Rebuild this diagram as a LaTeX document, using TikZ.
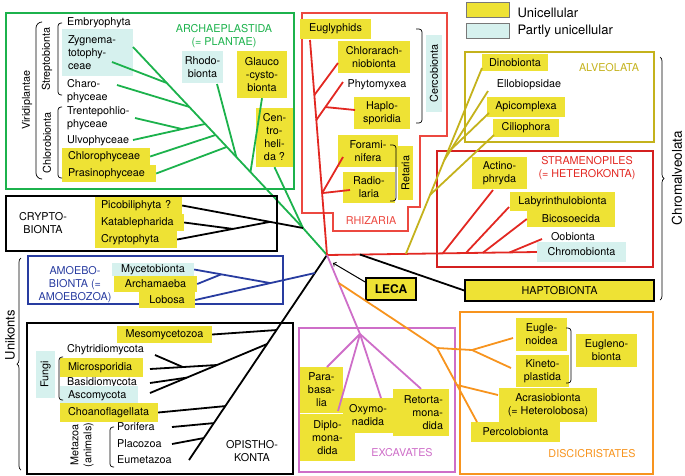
\documentclass[tikz,border=0pt]{standalone}
\usepackage{fontspec}
\setmainfont{TeX Gyre Heros}
\usepackage{tikz}
\usetikzlibrary{arrows,positioning,decorations.pathreplacing}
\definecolor{uniyellow}{RGB}{238,226,52}
\definecolor{partcyan}{RGB}{214,241,238}
\definecolor{plantgreen}{RGB}{28,178,76}
\definecolor{rhizred}{RGB}{226,40,34}
\definecolor{rhizbox}{RGB}{236,72,64}
\definecolor{stramred}{RGB}{212,32,32}
\definecolor{alvolive}{RGB}{196,178,28}
\definecolor{amoeblue}{RGB}{40,60,160}
\definecolor{excpink}{RGB}{206,110,200}
\definecolor{discorange}{RGB}{247,148,30}
\definecolor{leggray}{RGB}{120,120,120}
\newcommand\taxfont{\fontsize{10.8}{13}\selectfont}

\begin{document}
\begin{tikzpicture}[x=1pt,y=-1pt,>=to]
  \tikzstyle{every node}=[font=\taxfont,inner sep=0pt]
  \tikzstyle{uni}=[fill=uniyellow,align=center]
  \tikzstyle{part}=[fill=partcyan,align=center]
  \tikzstyle{lbox}=[inner xsep=6pt,align=left]
  \tikzstyle{taxon}=[anchor=west,align=left]
  \tikzstyle{branch}=[line width=1.8pt]
  \tikzstyle{cladebox}=[line width=1.4pt]
  \tikzstyle{sqbrack}=[line width=0.7pt,rounded corners=3pt]
  \tikzstyle{curly}=[line width=0.7pt,decorate,decoration={brace,amplitude=4pt}]
  \useasboundingbox (0,0) rectangle (685,475);
  \coordinate (root) at (327,255);

  \begin{scope}
    \draw[cladebox,plantgreen] (6,13) rectangle (294,189);
    \node[rotate=90] (viri) at (27,100) {Viridiplantae};
    \node[rotate=90] (strep) at (47,59) {Streptobionta};
    \node[rotate=90] (chlb) at (47,143) {Chlorobionta};
    \node[taxon] (embr) at (67,23) {Embryophyta};
    \node[part,lbox,text width=59pt,minimum height=47pt] (zygn) at (97.5,52.5) {Zygnema-\\totophy-\\ceae};
    \node[taxon] (charo) at (67,91) {Charo-\\phyceae};
    \node[taxon] (trent) at (67,118.5) {Trentepohlio-\\phyceae};
    \node[taxon] (ulvo) at (67,141) {Ulvophyceae};
    \node[uni,lbox,text width=76pt,minimum height=17pt] (chlor) at (106,156.5) {Chlorophyceae};
    \node[uni,lbox,text width=82pt,minimum height=17pt] (pras) at (109,173.5) {Prasinophyceae};
    \draw[sqbrack,rounded corners=6pt] (41,22) -- (36,22) -- (36,179) -- (41,179);
    \draw[sqbrack] (62,23) -- (58,23) -- (58,95) -- (62,95);
    \draw[sqbrack] (62,107) -- (58,107) -- (58,178) -- (62,178);
    \node[plantgreen,align=center] (archL) at (224,36) {ARCHAEPLASTIDA\\(= PLANTAE)};
    \node[part,minimum width=41pt,minimum height=32pt] (rhodo) at (202.5,67) {Rhodo-\\bionta};
    \node[uni,minimum width=50pt,minimum height=47pt] (glauco) at (262,74.5) {Glauco\\-cysto-\\bionta};
    \node[uni,minimum width=37pt,minimum height=59pt] (centro) at (274.5,137.5) {Cen-\\tro-\\heli-\\da ?};

    \coordinate (g0) at (133,47);
    \coordinate (gJ) at (303,228);
    \draw[branch,plantgreen] (g0) -- (gJ) coordinate[pos=.199] (gz) coordinate[pos=.331] (gch)
      coordinate[pos=.425] (gu) coordinate[pos=.486] (gcp) coordinate[pos=.552] (gpr)
      coordinate[pos=.608] (grh) coordinate[pos=.691] (ggl) -- (root);
    \coordinate (zygnE) at (112,62);
    \coordinate (charoE) at (117,85);
    \coordinate (trentE) at (135,118);
    \coordinate (ulvoE) at (133,140);
    \coordinate (rhodoE) at (217,84);
    \draw[branch,plantgreen] (zygnE) -- (gz);
    \draw[branch,plantgreen] (charoE) -- (gch);
    \draw[branch,plantgreen] (ulvoE) -- (gu) coordinate[pos=.68] (gtr);
    \draw[branch,plantgreen] (trentE) -- (gtr);
    \draw[branch,plantgreen] (chlor.east) -- (gcp);
    \draw[branch,plantgreen] (pras.east) -- (gpr);
    \draw[branch,plantgreen] (rhodoE) -- (grh);
    \draw[branch,plantgreen] (glauco.south) -- (ggl);
    \draw[branch,plantgreen] (centro.south) -- (gJ);
  \end{scope}

  \begin{scope}
    \draw[cladebox,line width=1.8pt] (6,196) rectangle (277,251);
    \node[align=center] (cryL) at (43,223) {CRYPTO-\\BIONTA};
    \node[uni,lbox,text width=75pt,minimum height=17pt] (pico) at (138.5,205.5) {Picobiliphyta ?};
    \node[uni,lbox,text width=77pt,minimum height=17pt] (kata) at (139.5,222.5) {Katablepharida};
    \node[uni,lbox,text width=70pt,minimum height=17pt] (crypt) at (136,239.5) {Cryptophyta};
    \draw[branch] (pico.east) -- (gJ) coordinate[pos=.727] (cp1);
    \draw[branch] (crypt.east) -- (cp1) coordinate[pos=.6] (cp2);
    \draw[branch] (kata.east) -- (cp2);
  \end{scope}

  \begin{scope}
    \draw[cladebox,amoeblue] (28,256) rectangle (283,304);
    \node[amoeblue,align=center] (amoL) at (75,285) {AMOEBO-\\BIONTA (=\\AMOEBOZOA)};
    \node[part,minimum width=82pt,minimum height=13pt] (myce) at (153,269.5) {Mycetobionta};
    \node[uni,minimum width=83pt,minimum height=16pt] (archa) at (155.5,284) {Archamaeba};
    \node[uni,minimum width=56pt,minimum height=16pt] (lobo) at (167,300) {Lobosa};
  \end{scope}

  \begin{scope}
    \draw[cladebox,line width=1.8pt] (27,323) rectangle (293,474);
    \node[align=center] (opiL) at (252,451) {OPISTHO-\\KONTA};
    \node[uni,minimum width=95pt,minimum height=17pt] (meso) at (164.5,334.5) {Mesomycetozoa};
    \node[part,rotate=90,minimum width=47pt,minimum height=19pt] (fungi) at (45.5,374.5) {Fungi};
    \node[taxon] (chytr) at (67,350) {Chytridiomycota};
    \node[uni,lbox,inner xsep=8pt,text width=67pt,minimum height=19pt] (micro) at (101.5,367.5) {Microsporidia};
    \node[taxon] (basid) at (67,383) {Basidiomycota};
    \node[part,lbox,inner xsep=8pt,text width=62pt,minimum height=19pt] (asco) at (99,395.5) {Ascomycota};
    \node[uni,lbox,inner xsep=8pt,text width=82pt,minimum height=19pt] (choa) at (109,412.5) {Choanoflagellata};
    \draw[sqbrack] (63,357) -- (59,357) -- (59,400) -- (63,400);
    \node[rotate=90,align=center] (metaL) at (82,445) {Metazoa\\(animals)};
    \draw[sqbrack] (114,427) -- (110,427) -- (110,467) -- (114,467);
    \node[taxon] (pori) at (117,427) {Porifera};
    \node[taxon] (placo) at (117,444) {Placozoa};
    \node[taxon] (eume) at (117,460) {Eumetazoa};
    \node[rotate=90,font=\fontsize{13}{15}\selectfont] (unik) at (10,335) {Unikonts};
    \draw[curly] (21,470) -- (21,258);

    \coordinate (uEnd) at (189,460);
    \draw[branch] (root) -- (uEnd) coordinate[pos=.088] (uam) coordinate[pos=.366] (ume)
      coordinate[pos=.434] (ufu) coordinate[pos=.737] (uch) coordinate[pos=.82] (upo)
      coordinate[pos=.893] (upl);
    \draw[branch,amoeblue] (lobo.east) -- (uam) coordinate[pos=.628] (am1);
    \draw[branch,amoeblue] (myce.east) -- (am1) coordinate[pos=.355] (am2);
    \draw[branch,amoeblue] (archa.east) -- (am2);
    \draw[branch] (meso.east) -- (ume);
    \coordinate (fu1) at (217,365);
    \coordinate (microE) at (150,369);
    \coordinate (chytrE) at (155,355);
    \coordinate (ascoE) at (150,393);
    \coordinate (basidE) at (150,383);
    \coordinate (poriE) at (172,427);
    \coordinate (placoE) at (172,444);
    \draw[branch] (fu1) -- (ufu);
    \draw[branch] (microE) -- (fu1) coordinate[pos=.49] (fu2);
    \draw[branch] (chytrE) -- (fu2);
    \draw[branch] (ascoE) -- (fu1) coordinate[pos=.55] (fu3);
    \draw[branch] (basidE) -- (fu3);
    \draw[branch] (choa.east) -- (uch);
    \draw[branch] (poriE) -- (upo);
    \draw[branch] (placoE) -- (upl);
  \end{scope}

  \begin{scope}
    \draw[line width=1.1pt,rhizbox] (302,13) -- (447,13) -- (447,136) -- (420,136) -- (420,207)
      -- (408,207) -- (408,231) -- (333,231) -- (333,213) -- (302,213) -- cycle;
    \node[rhizbox] (rhiL) at (371,221) {RHIZARIA};
    \node[uni,minimum width=71pt,minimum height=20pt] (eugly) at (335.5,29) {Euglyphids};
    \node[uni,minimum width=72pt,minimum height=32pt] (chlra) at (374,57) {Chlorarach-\\niobionta};
    \node (phyto) at (377,85) {Phytomyxea};
    \node[uni,minimum width=56pt,minimum height=32pt] (haplo) at (382,113) {Haplo-\\sporidia};
    \node[part,rotate=90,minimum width=77pt,minimum height=16pt] (cerco) at (434,73.5) {Cercobionta};
    \node[uni,minimum width=60pt,minimum height=32pt] (fora) at (368,151) {Forami-\\nifera};
    \node[uni,minimum width=52pt,minimum height=31pt] (radio) at (369,187.5) {Radio-\\laria};
    \node[uni,rotate=90,minimum width=54pt,minimum height=15pt] (reta) at (405.5,173) {Retaria};
    \draw[sqbrack] (416,29) -- (422,29) -- (422,123) -- (416,123);
    \draw[sqbrack] (390,145) -- (396,145) -- (396,201) -- (390,201);

    \coordinate (rTop) at (310,40);
    \coordinate (chlraE) at (338,63);
    \coordinate (phytoE) at (343,82);
    \coordinate (haploE) at (355,110);
    \coordinate (foraE) at (343,157);
    \coordinate (radioE) at (350,190);
    \draw[branch,rhizred] (rTop) -- (root) coordinate[pos=.256] (rca) coordinate[pos=.372] (rph)
      coordinate[pos=.712] (rfr);
    \draw[branch,rhizred] (chlraE) -- (rca);
    \draw[branch,rhizred] (phytoE) -- (rph) coordinate[pos=.66] (rha);
    \draw[branch,rhizred] (haploE) -- (rha);
    \draw[branch,rhizred] (foraE) -- (rfr);
    \draw[branch,rhizred] (radioE) -- (rfr);
  \end{scope}

  \begin{scope}
    \draw[cladebox,stramred] (437,151) rectangle (653,267);
    \node[rhizred,align=center] (strL) at (587,168) {STRAMENOPILES\\(= HETEROKONTA)};
    \node[uni,minimum width=55pt,minimum height=32pt] (acti) at (499.5,173) {Actino-\\phryda};
    \node[uni,minimum width=105pt,minimum height=19pt] (laby) at (562.5,201.5) {Labyrinthulobionta};
    \node[uni,minimum width=88pt,minimum height=16pt] (bico) at (571,219) {Bicosoecida};
    \node (oob) at (573,237) {Oobionta};
    \node[part,minimum width=89pt,minimum height=20pt] (chro) at (581.5,252) {Chromobionta};

    \draw[cladebox,alvolive] (465,52) rectangle (654,142);
    \node[alvolive] (alvL) at (609,68) {ALVEOLATA};
    \node[uni,minimum width=66pt,minimum height=17pt] (dino) at (515,62.5) {Dinobionta};
    \node (ello) at (529,85) {Ellobiopsidae};
    \node[uni,minimum width=78pt,minimum height=20pt] (apic) at (526,107) {Apicomplexa};
    \node[uni,minimum width=66pt,minimum height=18pt] (cili) at (526,128) {Ciliophora};

    \draw[curly] (660,57) -- (660,300);
    \node[rotate=90,font=\fontsize{13.5}{15}\selectfont] (chrL) at (677,178) {Chromalveolata};

    \draw[branch,rhizred] (root) -- (chro.west) coordinate[pos=.157] (sha) coordinate[pos=.376] (sal)
      coordinate[pos=.552] (sac) coordinate[pos=.662] (sla) coordinate[pos=.743] (sbi)
      coordinate[pos=.871] (soo);
    \coordinate (actiE) at (493,190);
    \coordinate (labyE) at (509,207);
    \coordinate (oobE) at (542,239);
    \draw[branch,rhizred] (actiE) -- (sac);
    \draw[branch,rhizred] (labyE) -- (sla);
    \draw[branch,rhizred] (bico.west) -- (sbi);
    \draw[branch,rhizred] (oobE) -- (soo);

    \coordinate (dinoE) at (482,68);
    \coordinate (elloE) at (488,91);
    \coordinate (apicE) at (489,113);
    \coordinate (ciliE) at (494,135);
    \draw[branch,alvolive] (sal) -- (dinoE) coordinate[pos=.505] (ael) coordinate[pos=.317] (aci);
    \draw[branch,alvolive] (elloE) -- (ael) coordinate[pos=.85] (aap);
    \draw[branch,alvolive] (apicE) -- (aap);
    \draw[branch,alvolive] (ciliE) -- (aci);

    \node[uni,draw=black,line width=1.4pt,minimum width=189pt,minimum height=21pt] (hapto) at (559.5,290.5) {HAPTOBIONTA};
    \draw[branch] (sha) -- (hapto.west);
  \end{scope}

  \node[uni,draw=black,line width=1.2pt,minimum width=50pt,minimum height=22pt,
    font=\bfseries\fontsize{12}{14}\selectfont] (leca) at (391,289) {LECA};
  \coordinate (lecaTip) at (333,263);
  \draw[->,line width=1pt] (leca.165) -- (lecaTip);

  \begin{scope}
    \draw[cladebox,excpink] (299,328) rectangle (455,472);
    \node[excpink] (excL) at (402,453) {EXCAVATES};
    \node[uni,minimum width=43pt,minimum height=46pt] (para) at (321.5,390) {Para-\\basa-\\lia};
    \node[uni,minimum width=55pt,minimum height=47pt] (dipl) at (327.5,437.5) {Diplo-\\mona-\\dida};
    \node[uni,minimum width=50pt,minimum height=35pt] (oxym) at (368,415.5) {Oxymo-\\nadida};
    \node[uni,inner xsep=6pt,text width=44pt,align=right,minimum height=47pt] (reto) at (421,412.5) {Retorta-\\mona-\\dida};
    \coordinate (pJ) at (360,334);
    \coordinate (paraE) at (327,367);
    \coordinate (diplE) at (338,411);
    \coordinate (oxymE) at (381,398);
    \draw[branch,excpink] (root) -- (pJ) coordinate[pos=.354] (pOr);
    \draw[branch,excpink] (pJ) -- (paraE);
    \draw[branch,excpink] (pJ) -- (diplE);
    \draw[branch,excpink] (pJ) -- (oxymE);
    \draw[branch,excpink] (pJ) -- (reto.north);
  \end{scope}

  \begin{scope}
    \draw[cladebox,discorange] (460,312) rectangle (653,474);
    \node[discorange] (disL) at (592,454) {DISCICRISTATES};
    \node[uni,minimum width=51pt,minimum height=33pt] (eugl) at (541.5,334.5) {Eugle-\\noidea};
    \node[uni,minimum width=53pt,minimum height=32pt] (kine) at (542.5,371) {Kineto-\\plastida};
    \draw[sqbrack] (566,328) -- (571,328) -- (571,383) -- (566,383);
    \node[uni,minimum width=61pt,minimum height=33pt] (eubi) at (606.5,350.5) {Eugleno-\\bionta};
    \node[uni,minimum width=98pt,minimum height=34pt] (acra) at (548,405) {Acrasiobionta\\(= Heterolobosa)};
    \node[uni,minimum width=89pt,minimum height=20pt] (perc) at (515.5,432) {Percolobionta};
    \coordinate (oB) at (437,348);
    \coordinate (oE) at (472,350);
    \coordinate (percE) at (477,422);
    \coordinate (euglE) at (513,338);
    \coordinate (kineE) at (511,368);
    \coordinate (acraE) at (498,395);
    \draw[branch,discorange] (pOr) -- (oB) -- (percE) coordinate[pos=.5] (oA);
    \draw[branch,discorange] (oB) -- (oE);
    \draw[branch,discorange] (oE) -- (euglE);
    \draw[branch,discorange] (oE) -- (kineE);
    \draw[branch,discorange] (oA) -- (acraE);
  \end{scope}

  \node[uni,draw=leggray,line width=0.8pt,minimum width=43pt,minimum height=15pt] (legU) at (487.5,9.5) {};
  \node[part,draw=leggray,line width=0.8pt,minimum width=43pt,minimum height=15pt,below=6pt of legU] (legP) {};
  \node[right=8pt of legU,yshift=-3pt,font=\fontsize{13}{15}\selectfont] (legUt) {Unicellular};
  \node[right=8pt of legP,font=\fontsize{13}{15}\selectfont] (legPt) {Partly unicellular};
\end{tikzpicture}
\end{document}
